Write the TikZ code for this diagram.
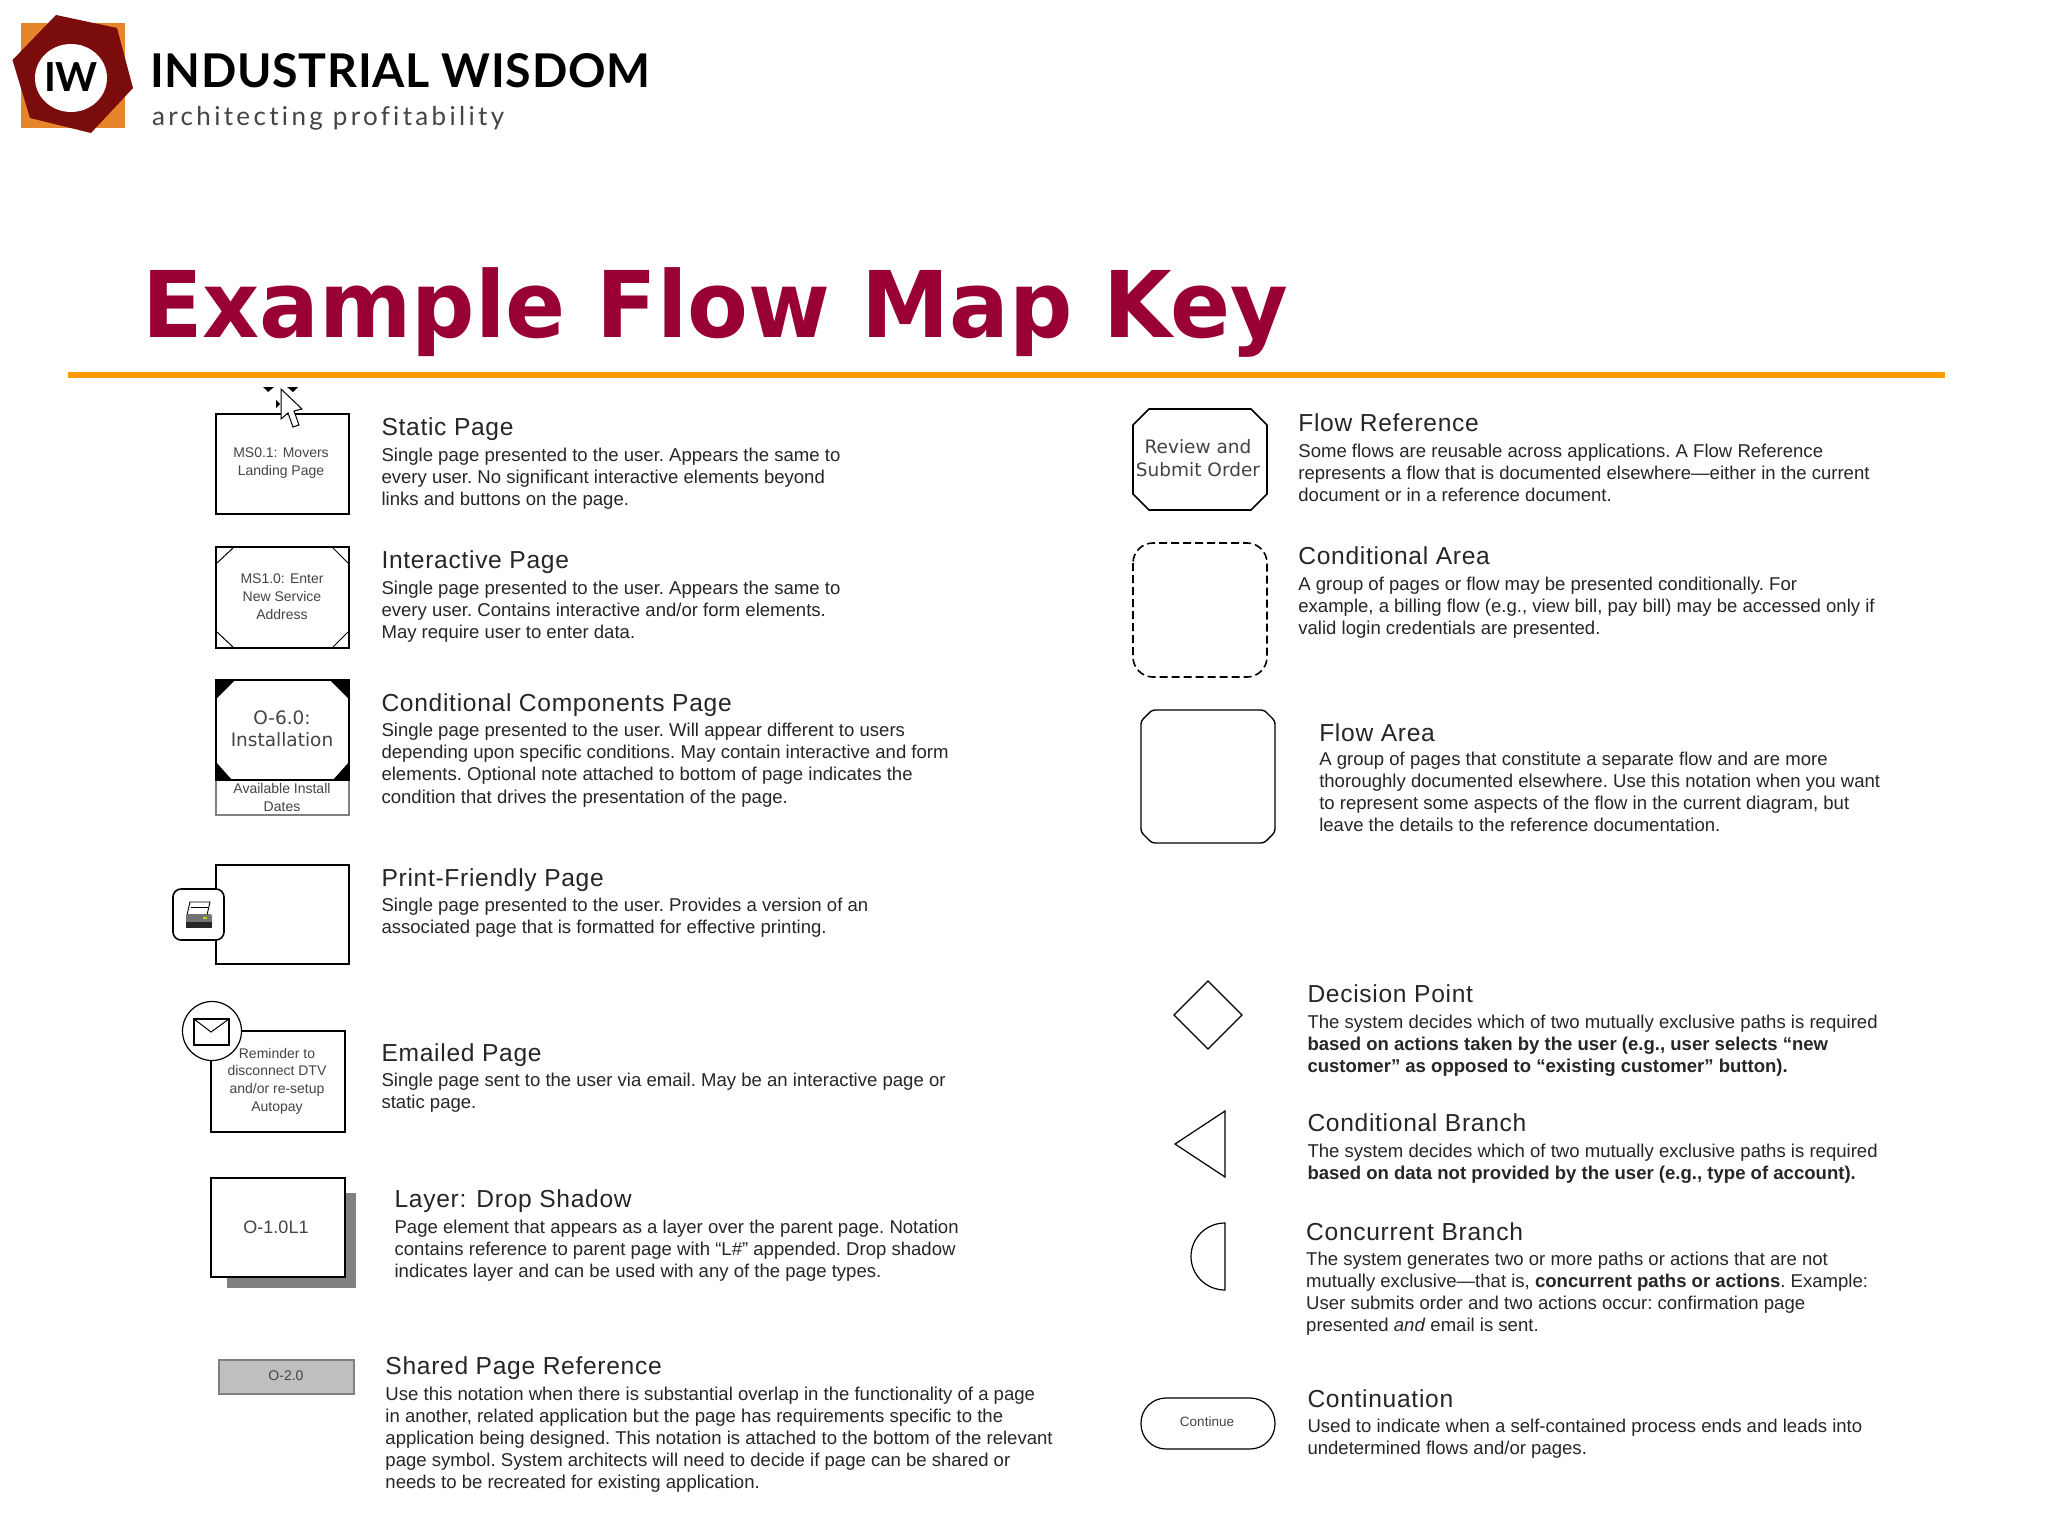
\documentclass[tikz,border=0pt]{standalone}
\usepackage{fontspec}
\setmainfont{Liberation Sans}
\newfontfamily\dvfont{DejaVu Sans}
\newfontfamily\latofont{Lato}
\newfontfamily\latonamefont[LetterSpace=1.5]{Lato}
\newfontfamily\latospaced[LetterSpace=12.8,Ligatures={NoCommon,NoContextual}]{Lato}
\definecolor{maroon}{HTML}{990033}
\definecolor{logored}{HTML}{7A0C0C}
\definecolor{logoorange}{HTML}{E8842A}
\definecolor{rule}{HTML}{FF9900}
\definecolor{ink}{HTML}{262626}
\definecolor{labelgray}{HTML}{444444}
\tikzset{
  keyhead/.style={anchor=base west,inner sep=0pt,text=ink,font=\fontsize{24.6}{28}\selectfont\addfontfeature{LetterSpace=2.8}},
  keybody/.style={anchor=north west,inner sep=0pt,align=left,text=ink,font=\fontsize{18.55}{22.1}\selectfont\frenchspacing},
  pagebox/.style={draw=black,line width=1.6pt,fill=white},
  smalllabel/.style={inner sep=0pt,text=labelgray,align=center,font=\fontsize{14}{18}\selectfont},
  biglabel/.style={inner sep=0pt,text=labelgray,align=center,font=\dvfont\fontsize{18.5}{22.5}\selectfont},
  thinshape/.style={draw=black,line width=1.2pt,fill=white},
}
\newcommand{\keyentry}[6]{%
  \node[keyhead] (#1h) at ({#2*1.306},{#3*1.306+8.5}) {#5};
  \node[keybody] (#1b) at ({#2*1.306},{#4*1.306-7.5}) {\rule{0pt}{14pt}#6};
}
\begin{document}
\begin{tikzpicture}[x=1pt,y=-1pt]
\useasboundingbox (0,0) rectangle (2048,1536);
\fill[white] (0,0) rectangle (2048,1536);
% logo
\fill[logoorange] (21,23) rectangle (125,128);
\fill[logored] (56,15) -- (117,28) -- (133,88) -- (91,133) -- (30,118) -- (12.5,60) -- cycle;
\fill[white] (71,78) ellipse [x radius=36pt,y radius=34pt];
\node[inner sep=0pt,font=\latofont\bfseries\fontsize{40}{40}\selectfont] (logoiw) at (71,77) {IW};
\node[anchor=base west,inner sep=0pt,font=\latonamefont\bfseries\fontsize{46.5}{50}\selectfont] (logoname) at (150,88) {INDUSTRIAL WISDOM};
\node[anchor=base west,inner sep=0pt,text=labelgray,font=\latospaced\fontsize{26}{30}\selectfont] (logotag) at (152,126) {architecting profitability};
% title
\node[anchor=base west,inner sep=0pt,xscale=.963,text=maroon,font=\dvfont\bfseries\fontsize{92}{100}\selectfont] (title) at (142,337) {Example Flow Map Key};
\fill[rule] (68,372) rectangle (1945,378);
% static page
\draw[pagebox] (216,414) rectangle (349,514);
\node[smalllabel] (lab1) at (281,463) {MS0.1: Movers\\Landing Page};
% cursor
\fill (263,387) -- (274,387) -- (268,392) -- cycle;
\fill (287,387) -- (298,387) -- (293,392) -- cycle;
\fill (276,400) -- (280,404) -- (276,408) -- cycle;
\draw[fill=white,line width=1pt] (281,389) -- (281,419) -- (288,413) -- (293,427) -- (299,425) -- (294,411) -- (302,409) -- cycle;
% interactive page
\draw[pagebox] (216,547) rectangle (349,648);
\draw[line width=1pt] (217,563) -- (233,548) (333,548) -- (348,563) (217,632) -- (233,647) (333,647) -- (348,632);
\node[smalllabel] (lab2) at (282,597) {MS1.0: Enter\\New Service\\Address};
% conditional components page
\draw[draw=gray,line width=1.2pt,fill=white] (216,780) rectangle (349,815);
\draw[pagebox] (216,680) rectangle (349,780);
\fill (216,680) -- (235,680) -- (216,699) -- cycle;
\fill (349,680) -- (330,680) -- (349,699) -- cycle;
\fill (216,780) -- (232,780) -- (216,762) -- cycle;
\fill (349,780) -- (333,780) -- (349,762) -- cycle;
\node[biglabel] (lab3) at (282,729) {O-6.0:\\Installation};
\node[smalllabel] (lab4) at (282,797) {Available Install\\Dates};
% print-friendly page
\draw[pagebox] (216,865) rectangle (349,964);
\draw[pagebox,rounded corners=8pt] (173,889) rectangle (224,940);
\fill[white,draw=black,line width=.9pt] (190,902) -- (210,902) -- (207,915) -- (187,915) -- cycle;
\draw[line width=.8pt] (191,907) -- (208,907);
\fill[black!55,rounded corners=1.5pt] (186,914) rectangle (212,926);
\fill[black!85] (186,922) rectangle (212,928);
\fill[yellow!80!black] (203,917) rectangle (207,919);
% emailed page
\draw[pagebox] (211,1031) rectangle (345,1132);
\draw[draw=black,line width=1.2pt,fill=white] (212,1031) circle [radius=29.5pt];
\draw[line width=1.5pt] (194,1019) rectangle (229,1045);
\draw[line width=1pt] (194,1019) -- (211,1032) -- (229,1019);
\node[smalllabel,font=\fontsize{14}{17.6}\selectfont] (lab5) at (277,1081) {Reminder to\\disconnect DTV\\and/or re-setup\\Autopay};
% layer
\fill[black!50] (227,1193) rectangle (356,1288);
\draw[pagebox] (211,1178) rectangle (345,1277);
\node[smalllabel,font=\fontsize{18}{20}\selectfont] (lab6) at (276,1227) {O-1.0L1};
% shared page
\draw[draw=gray,line width=1.2pt,fill=black!25] (219,1360) rectangle (354,1394);
\node[smalllabel] (lab7) at (286,1376) {O-2.0};
% flow reference
\draw[pagebox] (1149,409) -- (1251,409) -- (1267,425) -- (1267,494) -- (1251,510) -- (1149,510) -- (1133,494) -- (1133,425) -- cycle;
\node[biglabel] (lab8) at (1198,458) {Review and\\Submit Order};
% conditional area
\draw[pagebox,dash pattern=on 8pt off 4pt,rounded corners=20pt] (1133,543) rectangle (1267,677);
% flow area
\draw[pagebox,line width=1.4pt,rounded corners=3pt] (1152,710) -- (1264,710) -- (1275,721) -- (1275,832) -- (1264,843) -- (1152,843) -- (1141,832) -- (1141,721) -- cycle;
% decision
\draw[thinshape] (1208,981) -- (1242,1015) -- (1208,1049) -- (1174,1015) -- cycle;
% conditional branch
\draw[thinshape] (1175,1144) -- (1225,1111) -- (1225,1177) -- cycle;
% concurrent branch
\draw[thinshape] (1225,1223) arc [start angle=90,end angle=270,x radius=34pt,y radius=33.5pt] -- cycle;
% continuation
\draw[thinshape,rounded corners=25pt] (1141,1398) rectangle (1275,1449);
\node[smalllabel,font=\fontsize{13.5}{15}\selectfont] (lab9) at (1207,1422) {Continue};
% texts
\keyentry{a}{292}{327}{348}{Static Page}{Single page presented to the user. Appears the same to\\every user. No significant interactive elements beyond\\links and buttons on the page.}
\keyentry{b}{292}{429}{450}{Interactive Page}{Single page presented to the user. Appears the same to\\every user. Contains interactive and/or form elements.\\May require user to enter data.}
\keyentry{c}{292}{538}{559}{Conditional Components Page}{Single page presented to the user. Will appear different to users\\depending upon specific conditions. May contain interactive and form\\elements. Optional note attached to bottom of page indicates the\\condition that drives the presentation of the page.}
\keyentry{d}{292}{672}{693}{Print-Friendly Page}{Single page presented to the user. Provides a version of an\\associated page that is formatted for effective printing.}
\keyentry{e}{292}{806}{827}{Emailed Page}{Single page sent to the user via email. May be an interactive page or\\static page.}
\keyentry{f}{302}{918}{939}{Layer: Drop Shadow}{Page element that appears as a layer over the parent page. Notation\\contains reference to parent page with “L\#” appended. Drop shadow\\indicates layer and can be used with any of the page types.}
\keyentry{g}{295}{1046}{1067}{Shared Page Reference}{Use this notation when there is substantial overlap in the functionality of a page\\in another, related application but the page has requirements specific to the\\application being designed. This notation is attached to the bottom of the relevant\\page symbol. System architects will need to decide if page can be shared or\\needs to be recreated for existing application.}
\keyentry{h}{994}{324}{345}{Flow Reference}{Some flows are reusable across applications. A Flow Reference\\represents a flow that is documented elsewhere—either in the current\\document or in a reference document.}
\keyentry{i}{994}{426}{447}{Conditional Area}{A group of pages or flow may be presented conditionally. For\\example, a billing flow (e.g., view bill, pay bill) may be accessed only if\\valid login credentials are presented.}
\keyentry{j}{1010}{561}{581}{Flow Area}{A group of pages that constitute a separate flow and are more\\thoroughly documented elsewhere. Use this notation when you want\\to represent some aspects of the flow in the current diagram, but\\leave the details to the reference documentation.}
\keyentry{k}{1001}{761}{782}{Decision Point}{The system decides which of two mutually exclusive paths is required\\\textbf{based on actions taken by the user (e.g., user selects “new}\\\textbf{customer” as opposed to “existing customer” button).}}
\keyentry{l}{1001}{860}{881}{Conditional Branch}{The system decides which of two mutually exclusive paths is required\\\textbf{based on data not provided by the user (e.g., type of account).}}
\keyentry{m}{1000}{943}{964}{Concurrent Branch}{The system generates two or more paths or actions that are not\\mutually exclusive—that is, \textbf{concurrent paths or actions}. Example:\\User submits order and two actions occur: confirmation page\\presented \textit{and} email is sent.}
\keyentry{n}{1001}{1071}{1092}{Continuation}{Used to indicate when a self-contained process ends and leads into\\undetermined flows and/or pages.}
\end{tikzpicture}
\end{document}
